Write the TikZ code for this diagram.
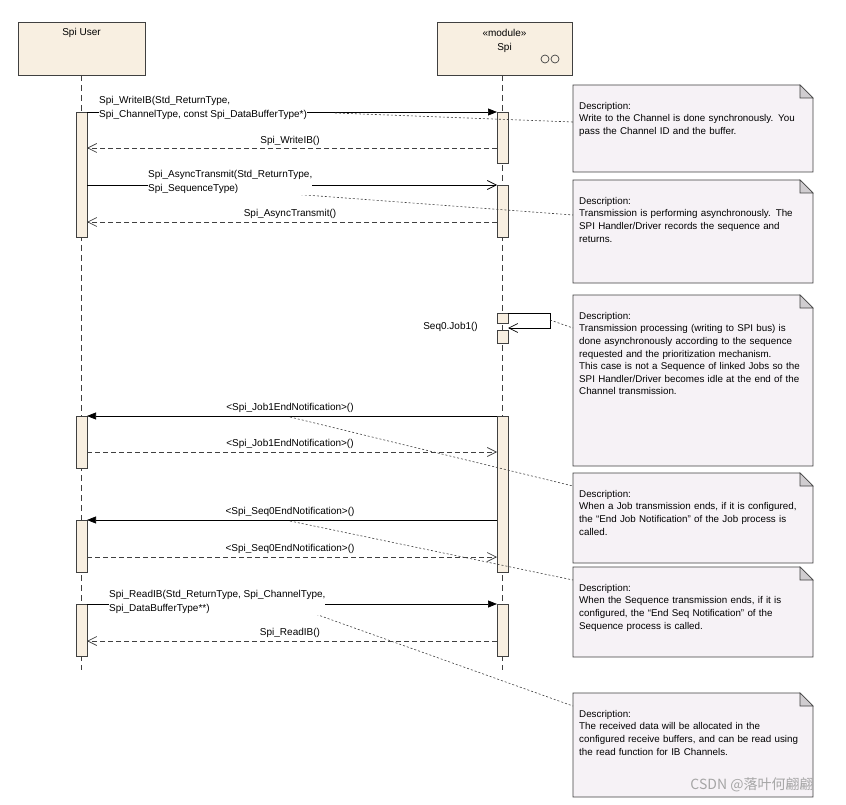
\documentclass[tikz,border=0pt]{standalone}
\usepackage{fontspec}
\setmainfont{Liberation Sans}
\newfontfamily\cjk{Noto Sans CJK SC}
\usetikzlibrary{arrows.meta}
\definecolor{lbox}{HTML}{F8EFE1}
\definecolor{nbox}{HTML}{F6F2F6}
\definecolor{fold}{HTML}{D0CDD0}
\definecolor{ln}{HTML}{404040}
\begin{document}
\begin{tikzpicture}[x=1pt,y=-1pt,
  life/.style={draw=ln,fill=lbox,line width=0.8pt},
  act/.style={draw=ln,fill=lbox,line width=0.6pt},
  lifeline/.style={draw=ln,dash pattern=on 6pt off 4pt,line width=0.6pt},
  call/.style={draw=black,line width=0.7pt,-{Triangle[length=9pt,width=7pt]}},
  async/.style={draw=black,line width=0.7pt,-{Straight Barb[length=9pt,width=9pt]}},
  ret/.style={draw=ln,line width=0.7pt,dash pattern=on 5pt off 3pt,-{Straight Barb[length=9pt,width=9pt]}},
  lbl/.style={font=\fontsize{10}{14}\selectfont,inner sep=0pt,align=left},
  mlbl/.style={lbl,fill=white,inner ysep=1pt,anchor=west},
  note/.style={font=\fontsize{9.8}{12.6}\selectfont,inner sep=0pt,align=left,anchor=north west,text width=236pt},
  link/.style={draw=ln,line width=0.6pt,dash pattern=on 2pt off 2pt}]
\useasboundingbox (0,0) rectangle (846,805);
% lifeline heads
\filldraw[life] (18,22) rectangle (145,75);
\node[lbl] (u) at (81.5,33) {Spi User};
\filldraw[life] (437,22) rectangle (572,75);
\node[lbl] (sm) at (504.5,33) {«module»};
\node[lbl] (s) at (504.5,48) {Spi};
\draw[ln,line width=0.7pt] (545,59) circle (4) (555,59) circle (4);
\draw[lifeline] (81,75) -- (81,670);
\draw[lifeline] (502,75) -- (502,670);
% activations
\foreach \a/\b in {112/237,416/468,520/572,604/656}{\filldraw[act] (76,\a) rectangle (87,\b);}
\foreach \a/\b in {112/163,185/237,313/323,330/343,416/572,604/656}{\filldraw[act] (497,\a) rectangle (508,\b);}
% notes
\newcommand{\mynote}[4]{%
  \filldraw[draw=ln,fill=nbox,line width=0.8pt] (573,#1) -- (800,#1) -- (813,#1+13) -- (813,#2) -- (573,#2) -- cycle;
  \filldraw[draw=ln,fill=fold,line width=0.6pt] (800,#1) -- (800,#1+13) -- (813,#1+13) -- cycle;
  \node[note] (#3) at (579,#1+17) {#4};}
\mynote{85}{172}{n1}{Description:\\Write to the Channel is done synchronously. You\\pass the Channel ID and the buffer.}
\mynote{180}{283}{n2}{Description:\\Transmission is performing asynchronously. The\\SPI Handler/Driver records the sequence and\\returns.}
\mynote{295}{466}{n3}{Description:\\Transmission processing (writing to SPI bus) is\\done asynchronously according to the sequence\\requested and the prioritization mechanism.\\This case is not a Sequence of linked Jobs so the\\SPI Handler/Driver becomes idle at the end of the\\Channel transmission.}
\mynote{473}{563}{n4}{Description:\\When a Job transmission ends, if it is configured,\\the “End Job Notification” of the Job process is\\called.}
\mynote{567}{657}{n5}{Description:\\When the Sequence transmission ends, if it is\\configured, the “End Seq Notification” of the\\Sequence process is called.}
\mynote{693}{797}{n6}{Description:\\The received data will be allocated in the\\configured receive buffers, and can be read using\\the read function for IB Channels.}
% messages
\coordinate (u1) at (87,112); \coordinate (s1) at (497,112);
\draw[call] (u1) -- (s1);
\coordinate (u2) at (87,148); \coordinate (s2) at (497,148);
\draw[ret] (s2) -- (u2);
\node[lbl] (m2) at (290,141) {Spi\_WriteIB()};
\coordinate (u3) at (87,185); \coordinate (s3) at (497,185);
\draw[async] (u3) -- (s3);
\coordinate (u4) at (87,222); \coordinate (s4) at (497,222);
\draw[ret] (s4) -- (u4);
\node[lbl] (m4) at (290,214) {Spi\_AsyncTransmit()};
% self call
\coordinate (sa) at (508,313); \coordinate (sb) at (550,313); \coordinate (sc) at (550,328); \coordinate (sd) at (508,328);
\draw[async] (sa) -- (sb) -- (sc) -- (sd);
\node[lbl,anchor=east] (m5) at (478,327) {Seq0.Job1()};
\coordinate (u6) at (87,416); \coordinate (s6) at (497,416);
\draw[call] (s6) -- (u6);
\node[lbl] (m6) at (290,408) {<Spi\_Job1EndNotification>()};
\coordinate (u7) at (87,452); \coordinate (s7) at (497,452);
\draw[ret] (u7) -- (s7);
\node[lbl] (m7) at (290,444) {<Spi\_Job1EndNotification>()};
\coordinate (u8) at (87,520); \coordinate (s8) at (497,520);
\draw[call] (s8) -- (u8);
\node[lbl] (m8) at (290,512) {<Spi\_Seq0EndNotification>()};
\coordinate (u9) at (87,557); \coordinate (s9) at (497,557);
\draw[ret] (u9) -- (s9);
\node[lbl] (m9) at (290,549) {<Spi\_Seq0EndNotification>()};
\coordinate (u10) at (87,604); \coordinate (s10) at (497,604);
\draw[call] (u10) -- (s10);
\coordinate (u11) at (87,641); \coordinate (s11) at (497,641);
\draw[ret] (s11) -- (u11);
\node[lbl] (m11) at (290,633) {Spi\_ReadIB()};
% note links
\coordinate (k1) at (335,113); \coordinate (e1) at (573,122);
\coordinate (k2) at (265,192); \coordinate (e2) at (573,215);
\coordinate (k3) at (550,320); \coordinate (e3) at (573,328);
\coordinate (k4) at (290,417); \coordinate (e4) at (573,486);
\coordinate (k5) at (290,521); \coordinate (e5) at (573,580);
\coordinate (k6) at (290,605); \coordinate (e6) at (573,706);
\foreach \i in {1,...,6}{\draw[link] (k\i) -- (e\i);}
% multi-line labels (drawn over lines)
\node[mlbl] (m1) at (99,108) {Spi\_WriteIB(Std\_ReturnType,\\Spi\_ChannelType, const Spi\_DataBufferType*)};
\node[mlbl] (m3) at (148,182) {Spi\_AsyncTransmit(Std\_ReturnType,\\Spi\_SequenceType)};
\node[mlbl] (m10) at (109,602) {Spi\_ReadIB(Std\_ReturnType, Spi\_ChannelType,\\Spi\_DataBufferType**)};
\node[font=\cjk\fontsize{14}{16}\selectfont,text=gray!70,inner sep=0pt] (wm) at (752,785) {CSDN @落叶何翩翩};
\end{tikzpicture}
\end{document}
